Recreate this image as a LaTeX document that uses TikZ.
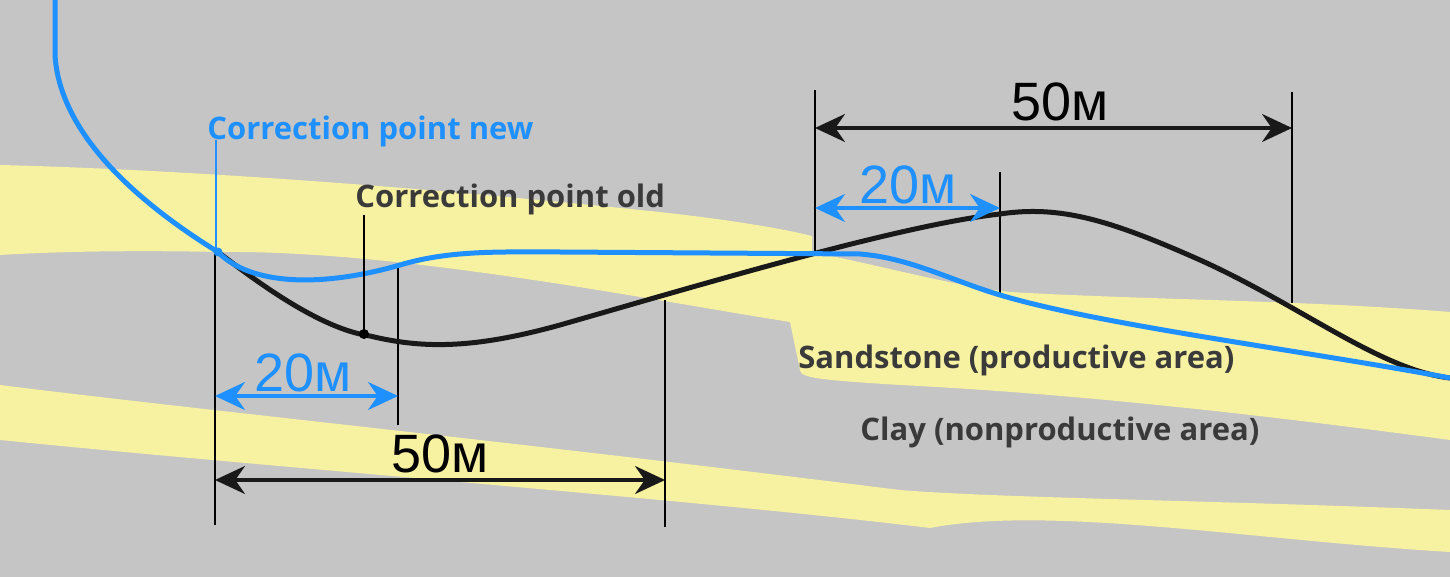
\documentclass[tikz,border=0pt]{standalone}
\usepackage{fontspec}
\setmainfont{Open Sans}
\newfontfamily\dimfont{Liberation Sans}
\usetikzlibrary{arrows.meta}
\definecolor{bg}{HTML}{C4C5C4}
\definecolor{sand}{HTML}{F7F1A2}
\definecolor{wblue}{HTML}{1E90FF}
\definecolor{txt}{HTML}{3A3A3A}
\tikzset{
 ext/.style={line width=0.6pt,black},
 dimarr/.style={line width=1.6pt,{Stealth[length=15pt,width=14pt]}-{Stealth[length=15pt,width=14pt]}},
 dimlbl/.style={font=\dimfont\fontsize{27}{29}\selectfont,inner sep=0pt},
 lbl/.style={font=\bfseries\fontsize{15.5}{17}\selectfont,inner sep=0pt,anchor=west}
}
\begin{document}
\begin{tikzpicture}[x=0.5pt,y=-0.5pt]
\fill[bg] (0,0) rectangle (1450,577);
\useasboundingbox (0,0) rectangle (1450,577);
% upper sand band
\fill[sand] (0,165) .. controls (200,170) and (450,190) .. (640,210) .. controls (720,218) and (780,228) .. (812,236)
 -- (812,252) .. controls (900,270) and (950,285) .. (1010,292) .. controls (1150,300) and (1300,300) .. (1450,312)
 -- (1450,440) .. controls (1300,420) and (1100,395) .. (900,385) .. controls (820,380) and (800,378) .. (800,370)
 -- (790,322) .. controls (650,300) and (400,250) .. (220,252) .. controls (120,250) and (50,252) .. (0,255) -- cycle;
% lower sand band
\fill[sand] (0,385) .. controls (200,410) and (500,440) .. (900,490) .. controls (1000,498) and (1200,500) .. (1450,510)
 -- (1450,552) .. controls (1250,540) and (1050,505) .. (930,528) .. controls (700,500) and (300,470) .. (0,440) -- cycle;
% extension lines
\coordinate (a0) at (215,252); \coordinate (a1) at (215,525);
\coordinate (b0) at (398,265); \coordinate (b1) at (398,425);
\coordinate (c0) at (665,300); \coordinate (c1) at (665,527);
\coordinate (d0) at (815,90); \coordinate (d1) at (815,253);
\coordinate (e0) at (1000,172); \coordinate (e1) at (1000,295);
\coordinate (f0) at (1292,92); \coordinate (f1) at (1292,303);
\draw[ext] (a0)--(a1); \draw[ext] (b0)--(b1); \draw[ext] (c0)--(c1);
\draw[ext] (d0)--(d1); \draw[ext] (e0)--(e1); \draw[ext] (f0)--(f1);
% black well path
\draw[line width=2.5pt,black!90] (218,252) .. controls (280,300) and (330,330) .. (370,336)
 .. controls (420,348) and (470,350) .. (560,325) .. controls (700,285) and (900,225) .. (1000,214)
 .. controls (1060,205) and (1110,220) .. (1200,260) .. controls (1300,305) and (1380,370) .. (1450,378);
% blue well path
\draw[line width=2.5pt,wblue] (55,0) -- (55,55) .. controls (60,140) and (150,210) .. (218,252)
 .. controls (250,285) and (320,288) .. (400,265) .. controls (450,250) and (500,252) .. (560,252)
 -- (860,254) .. controls (910,258) and (950,280) .. (1000,295) .. controls (1100,325) and (1300,350) .. (1450,378);
% correction points
\draw[wblue,line width=1pt] (216,140) -- (216,252);
\fill[wblue] (218,252) circle (4.5);
\draw[black,line width=1.2pt] (364,215) -- (364,333);
\fill[black] (364,334) circle (5);
\node[lbl,text=wblue] (cpn) at (207,131) {Correction point new};
\node[lbl,text=txt] (cpo) at (355,199) {Correction point old};
\node[lbl,text=txt] (ss) at (798,360) {Sandstone (productive area)};
\node[lbl,text=txt] (cl) at (860,432) {Clay (nonproductive area)};
% dimensions
\draw[dimarr,wblue] (215,396) -- (398,396);
\node[dimlbl,text=wblue] (t1) at (303,373) {20м};
\draw[dimarr,black!90] (215,480) -- (665,480);
\node[dimlbl] (t2) at (440,454) {50м};
\draw[dimarr,black!90] (815,128) -- (1292,128);
\node[dimlbl] (t3) at (1060,102) {50м};
\draw[dimarr,wblue] (815,208) -- (1000,208);
\node[dimlbl,text=wblue] (t4) at (908,185) {20м};
\end{tikzpicture}
\end{document}
